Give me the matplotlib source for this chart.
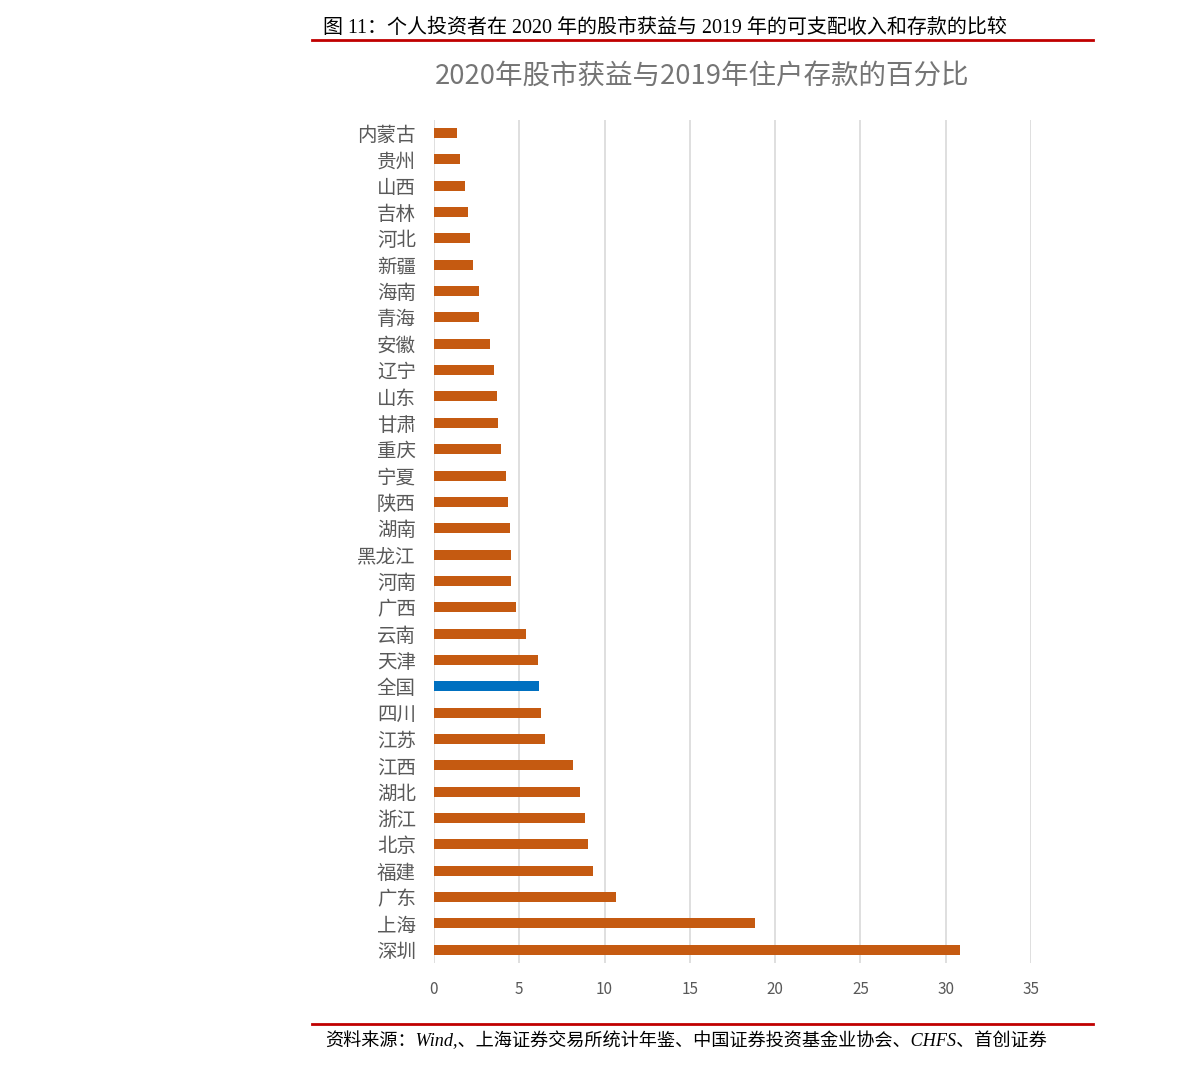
import matplotlib
matplotlib.use("Agg")
import matplotlib.pyplot as plt
from matplotlib.lines import Line2D

plt.rcParams['font.family'] = ['Noto Sans CJK SC', 'DejaVu Sans']

regions = ["内蒙古", "贵州", "山西", "吉林", "河北", "新疆", "海南", "青海", "安徽", "辽宁",
           "山东", "甘肃", "重庆", "宁夏", "陕西", "湖南", "黑龙江", "河南", "广西", "云南",
           "天津", "全国", "四川", "江苏", "江西", "湖北", "浙江", "北京", "福建", "广东",
           "上海", "深圳"]
values = [1.37, 1.51, 1.80, 1.97, 2.13, 2.27, 2.62, 2.66, 3.27, 3.50,
          3.71, 3.73, 3.91, 4.22, 4.36, 4.46, 4.50, 4.52, 4.79, 5.38,
          6.08, 6.14, 6.29, 6.48, 8.15, 8.57, 8.83, 9.04, 9.30, 10.69,
          18.80, 30.86]
highlight = "全国"
xticks = [0, 5, 10, 15, 20, 25, 30, 35]

header = "图 11：个人投资者在 2020 年的股市获益与 2019 年的可支配收入和存款的比较"
title = "2020年股市获益与2019年住户存款的百分比"
source = "资料来源：Wind,、上海证券交易所统计年鉴、中国证券投资基金业协会、CHFS、首创证券"

W, H = 1191, 1070
fig = plt.figure(figsize=(W / 100, H / 100), dpi=100)

# axes in pixel coordinates
left, right, top, bottom = 434, 1031, 119.8, 963
ax = fig.add_axes([left / W, 1 - bottom / H, (right - left) / W, (bottom - top) / H])

colors = ["#0070c0" if r == highlight else "#c55a11" for r in regions]
ypos = list(range(len(regions)))
ax.barh(ypos, values, height=0.38, color=colors, zorder=3)
ax.set_ylim(len(regions) - 0.5, -0.5)
ax.set_xlim(0, 35)
ax.set_xticks(xticks)
ax.set_xticklabels([str(t) for t in xticks], color="#595959", fontsize=11)
ax.set_yticks(ypos)
ax.set_yticklabels(regions, color="#595959", fontsize=14, fontweight="light")
ax.tick_params(axis="both", length=0)
ax.tick_params(axis="x", pad=13)
ax.tick_params(axis="y", pad=13)
ax.grid(axis="x", color="#d9d9d9", linewidth=1.2, zorder=0)
for s in ax.spines.values():
    s.set_visible(False)

serif_cjk = ['Liberation Serif', 'Noto Sans CJK SC']
# header
fig.text(323 / W, 1 - 28 / H, header, fontsize=14.4, color="black", va="center", ha="left",
         family=serif_cjk)
fig.add_artist(Line2D([312 / W, 1093 / W], [1 - 40 / H, 1 - 40 / H], color="#c00000", linewidth=2))
# chart title
fig.text(702 / W, 1 - 76 / H, title, fontsize=19.8, color="#757575", va="center", ha="center")
# footer
fig.add_artist(Line2D([312 / W, 1093 / W], [1 - 1024 / H, 1 - 1024 / H], color="#c00000", linewidth=2))
fig.text(325 / W, 1 - 1041 / H, source, fontsize=13.1, color="black", va="center", ha="left",
         fontstyle="italic", family=serif_cjk)

fig.savefig("out.png", dpi=100, facecolor="white")
